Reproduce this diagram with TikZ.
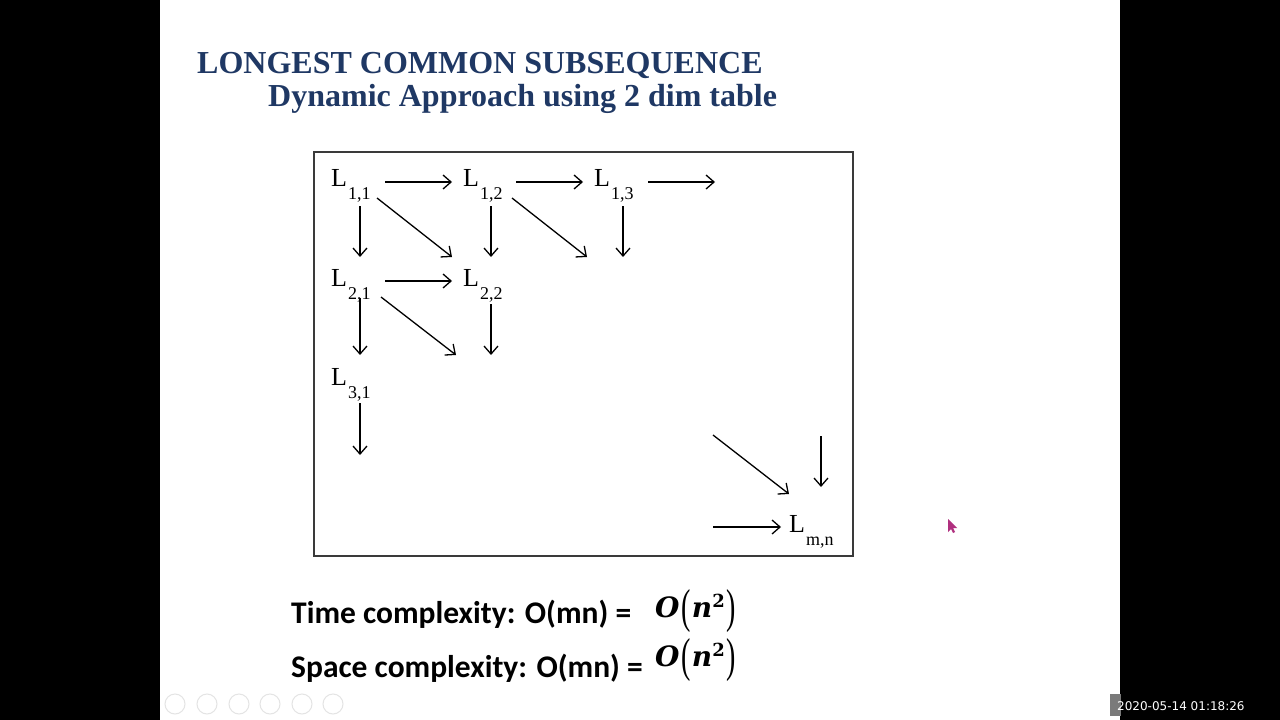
\documentclass[tikz,border=0pt]{standalone}
\usepackage{fontspec}
\setmainfont{Liberation Serif}
\newfontfamily\bodyfont{Carlito}
\newfontfamily\stampfont{DejaVu Sans}
\newfontfamily\orderfont{DejaVu Serif}
\usetikzlibrary{arrows.meta}
\definecolor{titleblue}{HTML}{1F3864}
\definecolor{framegray}{HTML}{3A3A3A}
\definecolor{iconfaint}{HTML}{E4E4E4}
\definecolor{cursorpink}{HTML}{B0307F}
\definecolor{stampgray}{HTML}{7A7A7A}
\newcommand{\Lsub}[1]{L\hspace{1pt}\raisebox{-13pt}{\fontsize{18}{18}\selectfont #1}}
\newcommand{\Onsq}{{\orderfont\bfseries\itshape O}\hspace{2pt}\raisebox{-5pt}{\scalebox{1}[1.7]{(}}\hspace{1pt}{\orderfont\bfseries\itshape n}\raisebox{10pt}{\fontsize{18}{18}\selectfont\orderfont\bfseries 2}\hspace{2pt}\raisebox{-5pt}{\scalebox{1}[1.7]{)}}}
\tikzset{
  headline/.style={anchor=base west, inner sep=0pt, text=titleblue, font=\fontsize{32}{32}\selectfont\bfseries},
  cell/.style={anchor=base west, inner sep=0pt, font=\fontsize{26}{26}\selectfont},
  flow/.style={-{Straight Barb[length=8pt,width=14pt]}, line width=1.3pt},
  costline/.style={anchor=base west, inner sep=0pt, font=\fontsize{31.5}{31.5}\selectfont\bodyfont\bfseries},
  costmath/.style={anchor=base west, inner sep=0pt, font=\fontsize{28}{28}\selectfont}
}
\begin{document}
\begin{tikzpicture}[x=1pt,y=-1pt]
  \useasboundingbox (0,0) rectangle (1280,720);
  \fill[white] (0,0) rectangle (1280,720);
  \fill[black] (0,0) rectangle (160,720);
  \fill[black] (1120,0) rectangle (1280,720);

  \node[headline] (title) at (197,73) {LONGEST COMMON SUBSEQUENCE};
  \node[headline] (subtitle) at (268,106) {Dynamic Approach using 2 dim table};

  \draw[framegray, line width=1.2pt] (314,152) rectangle (853,556);

  \draw
    (331,186) node[cell] (L11) {\Lsub{1,1}}
    (463,186) node[cell] (L12) {\Lsub{1,2}}
    (594,186) node[cell] (L13) {\Lsub{1,3}}
    (331,286) node[cell] (L21) {\Lsub{2,1}}
    (463,286) node[cell] (L22) {\Lsub{2,2}}
    (331,385) node[cell] (L31) {\Lsub{3,1}}
    (789,532) node[cell] (Lmn) {\Lsub{m,n}};
  \coordinate (r13) at (715,182);
  \coordinate (d13) at (623,257);
  \coordinate (x12) at (587,257);
  \coordinate (x21) at (456,355);
  \coordinate (d22) at (491,355);
  \coordinate (d31) at (360,455);
  \coordinate (inrow) at (713,527);
  \coordinate (incol) at (821,436);
  \coordinate (indiag) at (713,435);

  \begin{scope}[flow]
    \draw ([shift={(54,-4)}]L11.base west) to ([shift={(-11,-4)}]L12.base west);
    \draw ([shift={(53,-4)}]L12.base west) to ([shift={(-11,-4)}]L13.base west);
    \draw ([shift={(54,-4)}]L13.base west) to (r13);
    \draw ([shift={(54,-5)}]L21.base west) to ([shift={(-11,-5)}]L22.base west);
    \draw (inrow) to ([shift={(-8,-5)}]Lmn.base west);
    \draw ([shift={(29,20)}]L11.base west) to ([shift={(29,-29)}]L21.base west);
    \draw ([shift={(28,20)}]L12.base west) to ([shift={(28,-29)}]L22.base west);
    \draw ([shift={(29,20)}]L13.base west) to (d13);
    \draw ([shift={(29,12)}]L21.base west) to ([shift={(29,-30)}]L31.base west);
    \draw ([shift={(28,18)}]L22.base west) to (d22);
    \draw ([shift={(29,18)}]L31.base west) to (d31);
    \draw (incol) to ([shift={(32,-45)}]Lmn.base west);
    \draw ([shift={(46,12)}]L11.base west) to ([shift={(-11,-29)}]L22.base west);
    \draw ([shift={(49,12)}]L12.base west) to (x12);
    \draw ([shift={(50,11)}]L21.base west) to (x21);
    \draw (indiag) to ([shift={(0,-38)}]Lmn.base west);
  \end{scope}

  \node[costline] (timecost) at (291,623) {Time complexity: O(mn) =};
  \node[costline] (spacecost) at (291,677) {Space complexity: O(mn) =};
  \node[costmath] (timeorder) at (655,617) {\Onsq};
  \node[costmath] (spaceorder) at (655,666) {\Onsq};

  \foreach \ix in {175,207,239,270,302,333}
    \draw[iconfaint, line width=1pt] (\ix,704) circle (10);

  \fill[cursorpink] (948,519) -- (948,532) -- (951,529) -- (953,533) -- (955,532) -- (953,528) -- (957,528) -- cycle;

  \fill[stampgray] (1110,694) rectangle (1121,716);
  \node[anchor=base west, inner sep=0pt, text=white, font=\fontsize{12}{12}\selectfont\stampfont] (stamp) at (1117,710) {2020-05-14 01:18:26};
\end{tikzpicture}
\end{document}
